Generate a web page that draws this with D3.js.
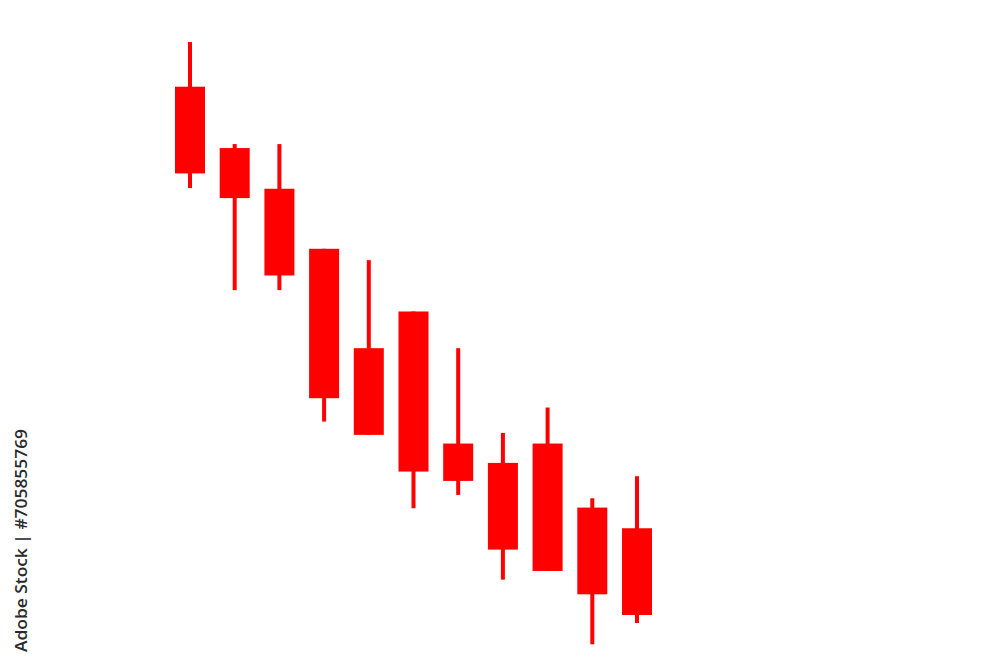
<!DOCTYPE html>
<html>
<head>
<meta charset="utf-8">
<script src="https://cdn.jsdelivr.net/npm/d3@7"></script>
<style>
html,body{margin:0;padding:0;background:#fff;}
svg{display:block;}
</style>
</head>
<body>
<svg id="chart" width="1000" height="667"></svg>
<script>
// Data (price units)
const candles = ["1","2","3","4","5","6","7","8","9","10","11"];
const openVals  = [87.0, 77.8, 71.7, 62.7, 47.8, 53.3, 33.5, 30.6, 33.5, 23.9, 20.8];
const highVals  = [93.7, 78.4, 78.4, 62.7, 61.0, 53.3, 47.8, 35.1, 38.9, 25.3, 28.6];
const lowVals   = [71.8, 56.5, 56.5, 36.8, 34.8, 23.8, 25.8, 13.1, 14.4,  3.4,  6.6];
const closeVals = [74.0, 70.3, 58.7, 40.3, 34.8, 29.3, 27.9, 17.6, 14.4, 10.9,  7.8];
const watermark = "Adobe Stock | #705855769";

const data = candles.map((c,i)=>({c, o:openVals[i], h:highVals[i], l:lowVals[i], cl:closeVals[i]}));

const svg = d3.select("#chart");
const x = d3.scalePoint().domain(candles).range([190, 637]);
const y = d3.scaleLinear().domain([0, 100]).range([667, 0]);
const bodyW = 30, wickW = 4;
const red = "#ff0000";

const g = svg.append("g");
g.selectAll("rect.wick").data(data).join("rect")
  .attr("class","wick")
  .attr("x", d => x(d.c) - wickW/2)
  .attr("width", wickW)
  .attr("y", d => y(d.h))
  .attr("height", d => y(d.l) - y(d.h))
  .attr("fill", red);
g.selectAll("rect.body").data(data).join("rect")
  .attr("class","body")
  .attr("x", d => x(d.c) - bodyW/2)
  .attr("width", bodyW)
  .attr("y", d => y(Math.max(d.o, d.cl)))
  .attr("height", d => Math.max(1, Math.abs(y(d.o) - y(d.cl))))
  .attr("fill", red);

svg.append("text")
  .attr("transform", "translate(27,652) rotate(-90)")
  .attr("font-family", "'Open Sans', sans-serif")
  .attr("font-size", 16.5)
  .attr("font-weight", 600)
  .attr("fill", "#2a2a2a")
  .attr("textLength", 223)
  .attr("lengthAdjust", "spacingAndGlyphs")
  .text(watermark);
</script>
</body>
</html>
